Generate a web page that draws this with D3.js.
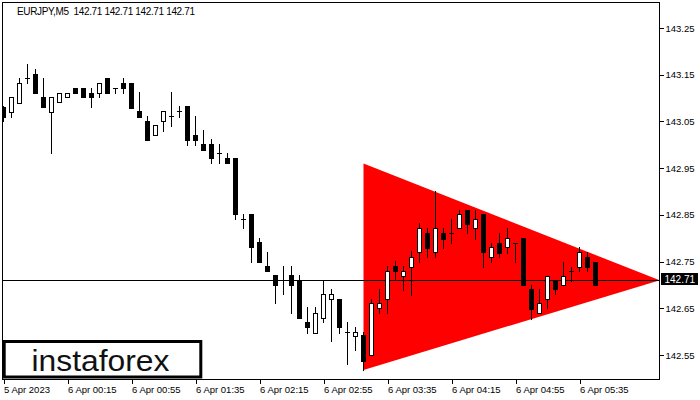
<!DOCTYPE html>
<html>
<head>
<meta charset="utf-8">
<script src="https://cdn.jsdelivr.net/npm/d3@7"></script>
<style>
  html, body { margin: 0; padding: 0; background: #fff; }
  svg { display: block; }
  text { font-family: "Liberation Sans", Arial, sans-serif; }
</style>
</head>
<body>
<svg id="chart" width="700" height="400"></svg>
<script>
const symbolTitle = "EURJPY,M5  142.71 142.71 142.71 142.71";
const openP = [143.080,143.071,143.090,143.143,143.152,143.102,143.071,143.091,143.102,143.121,
  143.121,143.110,143.110,143.142,143.121,143.132,143.133,143.072,143.051,143.020,
  143.050,143.062,143.072,143.082,143.021,143.002,143.002,142.983,142.971,142.971,
  142.841,142.852,142.791,142.741,142.722,142.711,142.722,142.711,142.621,142.598,
  142.629,142.670,142.670,142.599,142.590,142.592,142.549,142.650,142.670,142.741,
  142.720,142.739,142.770,142.811,142.770,142.811,142.811,142.822,142.861,142.822,
  142.852,142.759,142.789,142.781,142.789,142.800,142.691,142.640,142.670,142.709,
  142.699,142.730,142.739,142.759,142.750,142.710];
const highP = [143.082,143.102,143.142,143.173,143.162,143.142,143.102,143.110,143.110,143.121,
  143.121,143.121,143.132,143.142,143.121,143.142,143.133,143.112,143.062,143.043,
  143.072,143.112,143.082,143.082,143.062,143.032,143.013,143.002,142.983,142.971,
  142.852,142.852,142.801,142.771,142.722,142.741,142.741,142.722,142.652,142.652,
  142.711,142.692,142.670,142.620,142.611,142.600,142.670,142.692,142.741,142.752,
  142.741,142.772,142.832,142.822,142.901,142.822,142.841,142.861,142.861,142.861,
  142.852,142.789,142.811,142.822,142.789,142.800,142.699,142.691,142.720,142.709,
  142.750,142.739,142.781,142.770,142.750,142.710];
const lowP = [143.050,143.060,143.090,143.132,143.110,143.080,142.982,143.091,143.102,143.110,
  143.102,143.080,143.102,143.110,143.110,143.110,143.078,143.060,143.010,143.020,
  143.030,143.041,143.060,142.999,142.999,142.989,142.961,142.961,142.961,142.841,
  142.822,142.750,142.750,142.729,142.661,142.680,142.640,142.629,142.598,142.598,
  142.620,142.579,142.598,142.531,142.560,142.518,142.549,142.640,142.640,142.711,
  142.690,142.679,142.750,142.759,142.759,142.780,142.789,142.822,142.811,142.799,
  142.739,142.750,142.760,142.769,142.750,142.699,142.628,142.640,142.650,142.681,
  142.699,142.709,142.730,142.729,142.699,142.710];
const closeP = [143.060,143.102,143.132,143.142,143.110,143.080,143.102,143.110,143.110,143.110,
  143.102,143.102,143.132,143.110,143.121,143.121,143.078,143.060,143.010,143.043,
  143.072,143.062,143.072,143.010,143.010,142.989,142.971,142.983,142.961,142.852,
  142.841,142.781,142.750,142.729,142.699,142.711,142.699,142.629,142.610,142.640,
  142.680,142.680,142.610,142.599,142.599,142.538,142.661,142.661,142.730,142.729,
  142.730,142.759,142.822,142.780,142.822,142.799,142.811,142.852,142.830,142.841,
  142.770,142.781,142.769,142.800,142.789,142.699,142.649,142.661,142.720,142.691,
  142.720,142.730,142.770,142.739,142.699,142.710];
const currentPrice = 142.71;
const priceTicks = [142.55, 142.65, 142.75, 142.85, 142.95, 143.05, 143.15, 143.25];
const timeTickIdx = [0, 8, 16, 24, 32, 40, 48, 56, 64, 72];
const timeTickLabels = ["5 Apr 2023","6 Apr 00:15","6 Apr 00:55","6 Apr 01:35","6 Apr 02:15",
  "6 Apr 02:55","6 Apr 03:35","6 Apr 04:15","6 Apr 04:55","6 Apr 05:35"];
const patternIdx = [45, 45, 82];
const patternPrice = [142.960, 142.518, 142.710];
const logoText = "instaforex";

const svg = d3.select("#chart");
const L = 3, R = 659, T = 3, B = 379;
const x = d3.scaleLinear().domain([0, 82]).range([3.5, 659.5]);
const y = d3.scaleLinear().domain([142.55, 143.25]).range([355, 28]);

svg.append("defs").append("clipPath").attr("id", "plotclip")
  .append("rect").attr("x", L).attr("y", T).attr("width", R - L).attr("height", B - T);

const plot = svg.append("g").attr("clip-path", "url(#plotclip)");

// triangle pattern
plot.append("polygon")
  .attr("points", patternIdx.map((d, i) => [x(d), y(patternPrice[i])].join(",")).join(" "))
  .attr("fill", "#ff0000");

// current price line
const py = Math.round(y(currentPrice)) + 0.5;
plot.append("line").attr("x1", L).attr("x2", R + 1).attr("y1", py).attr("y2", py)
  .attr("stroke", "#000").attr("stroke-width", 1);

// candles
const data = openP.map((o, i) => ({ i, o, h: highP[i], l: lowP[i], c: closeP[i] }));
const cg = plot.append("g").attr("shape-rendering", "crispEdges");
data.forEach(d => {
  const cx = Math.floor(x(d.i)) + 0.5;
  const yh = Math.round(y(d.h)), yl = Math.round(y(d.l));
  cg.append("rect").attr("x", cx - 0.5).attr("y", yh).attr("width", 1)
    .attr("height", Math.max(1, yl - yh + 1)).attr("fill", "#000");
  const top = Math.round(y(Math.max(d.o, d.c))), bot = Math.round(y(Math.min(d.o, d.c)));
  if (d.c < d.o) {
    cg.append("rect").attr("x", cx - 2.5).attr("y", top).attr("width", 5)
      .attr("height", Math.max(1, bot - top + 1)).attr("fill", "#000");
  } else if (d.c > d.o && bot - top >= 2) {
    cg.append("rect").attr("x", cx - 2).attr("y", top + 0.5).attr("width", 4)
      .attr("height", bot - top).attr("fill", "#fff").attr("stroke", "#000").attr("stroke-width", 1);
  } else {
    cg.append("rect").attr("x", cx - 2.5).attr("y", top).attr("width", 5)
      .attr("height", Math.max(1, bot - top + 1)).attr("fill", "#000");
  }
});

// frame
svg.append("rect").attr("x", L - 0.5).attr("y", T - 0.5).attr("width", R - L + 1).attr("height", B - T + 1)
  .attr("fill", "none").attr("stroke", "#000").attr("stroke-width", 1).attr("shape-rendering", "crispEdges");

// y axis
const yAxis = svg.append("g").attr("transform", `translate(${R + 0.5},0)`)
  .call(d3.axisRight(y).tickValues(priceTicks).tickFormat(d3.format(".2f"))
    .tickSizeInner(4).tickSizeOuter(0).tickPadding(2));
yAxis.select(".domain").remove();
yAxis.selectAll("line").attr("stroke", "#000").attr("shape-rendering", "crispEdges");
yAxis.selectAll("text").attr("font-size", "9.5px").attr("fill", "#000")
  .attr("font-family", "'Liberation Sans', Arial, sans-serif");

// x axis
const xAxis = svg.append("g").attr("transform", `translate(0,${B + 0.5})`)
  .call(d3.axisBottom(x).tickValues(timeTickIdx).tickFormat((d, i) => timeTickLabels[i])
    .tickSizeInner(4).tickSizeOuter(0).tickPadding(2));
xAxis.select(".domain").remove();
xAxis.selectAll("line").attr("stroke", "#000").attr("shape-rendering", "crispEdges");
xAxis.selectAll("text").attr("font-size", "9.5px").attr("fill", "#000")
  .attr("text-anchor", "start").attr("x", 0).attr("y", 13.5).attr("dy", 0)
  .attr("font-family", "'Liberation Sans', Arial, sans-serif");

// current price label
svg.append("rect").attr("x", 661).attr("y", py - 7.5).attr("width", 37).attr("height", 12).attr("fill", "#000");
svg.append("text").attr("x", 664.5).attr("y", py + 2.5).attr("fill", "#fff")
  .attr("font-size", "10px").text(d3.format(".2f")(currentPrice));

// title
svg.append("text").attr("x", 17).attr("y", 15).attr("font-size", "10px").attr("fill", "#000")
  .attr("textLength", 178).attr("lengthAdjust", "spacing")
  .attr("xml:space", "preserve").style("white-space", "pre").text(symbolTitle);

// logo
svg.append("rect").attr("x", 4.2).attr("y", 341.5).attr("width", 196.6).attr("height", 35.5)
  .attr("fill", "#fff").attr("stroke", "#000").attr("stroke-width", 3);
svg.append("text").attr("x", 31.5).attr("y", 370.5).attr("font-size", "30px").attr("fill", "#111")
  .attr("textLength", 138).attr("lengthAdjust", "spacingAndGlyphs").text(logoText);
</script>
</body>
</html>
